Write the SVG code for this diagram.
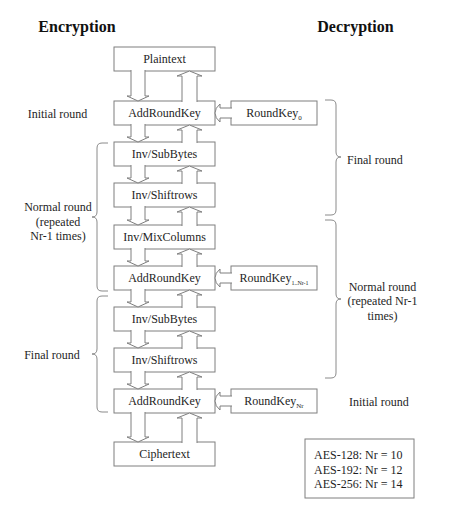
<svg xmlns="http://www.w3.org/2000/svg" width="474" height="512" viewBox="0 0 474 512">
<style>
.bg{fill:#ffffff}
.box{fill:#ffffff;stroke:#7f7f7f;stroke-width:1}
.lbl{font-family:"Liberation Serif","Times New Roman",serif;font-size:12px;fill:#1e1e1e}
.mid{text-anchor:middle}
.title{font-family:"Liberation Serif","Times New Roman",serif;font-size:16px;font-weight:bold;fill:#111111;text-anchor:middle}
.arr{fill:#ffffff;stroke:#7f7f7f;stroke-width:1;stroke-linejoin:miter}
.brace{fill:none;stroke:#8a8a8a;stroke-width:1}
.sub{font-size:7px}
</style>
<rect class="bg" x="0" y="0" width="474" height="512"/>
<g id="titles">
<text class="title" x="77" y="32">Encryption</text>
<text class="title" x="355.5" y="32">Decryption</text>
</g>
<g id="plaintext"><rect class="box" x="114" y="47" width="101" height="24"/><text class="lbl mid" x="164.5" y="63">Plaintext</text></g>
<g id="ark0"><rect class="box" x="114" y="101" width="101" height="24"/><text class="lbl mid" x="164.5" y="117">AddRoundKey</text></g>
<g id="sub1"><rect class="box" x="114" y="142" width="101" height="24"/><text class="lbl mid" x="164.5" y="158">Inv/SubBytes</text></g>
<g id="shift1"><rect class="box" x="114" y="183" width="101" height="24"/><text class="lbl mid" x="164.5" y="199">Inv/Shiftrows</text></g>
<g id="mix"><rect class="box" x="114" y="225" width="101" height="24"/><text class="lbl mid" x="164.5" y="241">Inv/MixColumns</text></g>
<g id="ark1"><rect class="box" x="114" y="266" width="101" height="24"/><text class="lbl mid" x="164.5" y="282">AddRoundKey</text></g>
<g id="sub2"><rect class="box" x="114" y="307" width="101" height="24"/><text class="lbl mid" x="164.5" y="323">Inv/SubBytes</text></g>
<g id="shift2"><rect class="box" x="114" y="348" width="101" height="24"/><text class="lbl mid" x="164.5" y="364">Inv/Shiftrows</text></g>
<g id="ark2"><rect class="box" x="114" y="389" width="101" height="24"/><text class="lbl mid" x="164.5" y="405">AddRoundKey</text></g>
<g id="cipher"><rect class="box" x="114" y="442" width="101" height="24"/><text class="lbl mid" x="164.5" y="458">Ciphertext</text></g>
<g id="key0"><rect class="box" x="231" y="101" width="86" height="24"/><text class="lbl mid" x="274" y="117">RoundKey<tspan class="sub" dy="3">0</tspan></text></g>
<g id="key1"><rect class="box" x="231" y="266" width="86" height="24"/><text class="lbl mid" x="274" y="282">RoundKey<tspan style="font-size:6px" dy="3">1..Nr-1</tspan></text></g>
<g id="keynr"><rect class="box" x="231" y="389" width="86" height="24"/><text class="lbl mid" x="274" y="405">RoundKey<tspan class="sub" dy="3">Nr</tspan></text></g>
<g id="aes"><rect class="box" x="305" y="439" width="109" height="59"/>
<text class="lbl" x="314" y="459">AES-128: Nr = 10</text>
<text class="lbl" x="314" y="473.5">AES-192: Nr = 12</text>
<text class="lbl" x="314" y="488">AES-256: Nr = 14</text></g>
<g id="labels">
<text class="lbl mid" x="57.5" y="118">Initial round</text>
<text class="lbl mid" x="58" y="211">Normal round</text>
<text class="lbl mid" x="58" y="226">(repeated</text>
<text class="lbl mid" x="58" y="240">Nr-1 times)</text>
<text class="lbl mid" x="52" y="359">Final round</text>
<text class="lbl" x="347" y="164">Final round</text>
<text class="lbl mid" x="382.5" y="291">Normal round</text>
<text class="lbl mid" x="382.5" y="305">(repeated Nr-1</text>
<text class="lbl mid" x="382.5" y="320">times)</text>
<text class="lbl" x="349" y="406">Initial round</text>
</g>
<g id="braces">
<path class="brace" d="M108,143 H102 Q97,143 97,148 V212 Q97,217 92,217 Q97,217 97,222 V286 Q97,291 102,291 H108"/>
<path class="brace" d="M108,296 H102 Q97,296 97,301 V349 Q97,354 92,354 Q97,354 97,359 V407 Q97,412 102,412 H108"/>
<path class="brace" d="M325,100 H331 Q336,100 336,105 V152 Q336,157 341,157 Q336,157 336,162 V210 Q336,215 331,215 H325"/>
<path class="brace" d="M325,220 H331 Q336,220 336,225 V294 Q336,299 341,299 Q336,299 336,304 V373 Q336,378 331,378 H325"/>
</g>
<g id="connectors">
<path class="arr" d="M131,70 V96 H127 L138,101 L149,96 H145 V70"/>
<path class="arr" d="M131,124 V137 H127 L138,142 L149,137 H145 V124"/>
<path class="arr" d="M131,165 V178 H127 L138,183 L149,178 H145 V165"/>
<path class="arr" d="M131,206 V220 H127 L138,225 L149,220 H145 V206"/>
<path class="arr" d="M131,248 V261 H127 L138,266 L149,261 H145 V248"/>
<path class="arr" d="M131,289 V302 H127 L138,307 L149,302 H145 V289"/>
<path class="arr" d="M131,330 V343 H127 L138,348 L149,343 H145 V330"/>
<path class="arr" d="M131,371 V384 H127 L138,389 L149,384 H145 V371"/>
<path class="arr" d="M131,412 V437 H127 L138,442 L149,437 H145 V412"/>
<path class="arr" d="M182,102 V76 H177 L189.5,71 L202,76 H197 V102"/>
<path class="arr" d="M182,143 V130 H177 L189.5,125 L202,130 H197 V143"/>
<path class="arr" d="M182,184 V171 H177 L189.5,166 L202,171 H197 V184"/>
<path class="arr" d="M182,226 V212 H177 L189.5,207 L202,212 H197 V226"/>
<path class="arr" d="M182,267 V254 H177 L189.5,249 L202,254 H197 V267"/>
<path class="arr" d="M182,308 V295 H177 L189.5,290 L202,295 H197 V308"/>
<path class="arr" d="M182,349 V336 H177 L189.5,331 L202,336 H197 V349"/>
<path class="arr" d="M182,390 V377 H177 L189.5,372 L202,377 H197 V390"/>
<path class="arr" d="M182,443 V418 H177 L189.5,413 L202,418 H197 V443"/>
<path class="arr" d="M232,108 H220 V104 Q215,108 215,113 Q215,118 220,122 V118 H232"/>
<path class="arr" d="M232,273 H220 V269 Q215,273 215,278 Q215,283 220,287 V283 H232"/>
<path class="arr" d="M232,396 H220 V392 Q215,396 215,401 Q215,406 220,410 V406 H232"/>
</g>
</svg>
